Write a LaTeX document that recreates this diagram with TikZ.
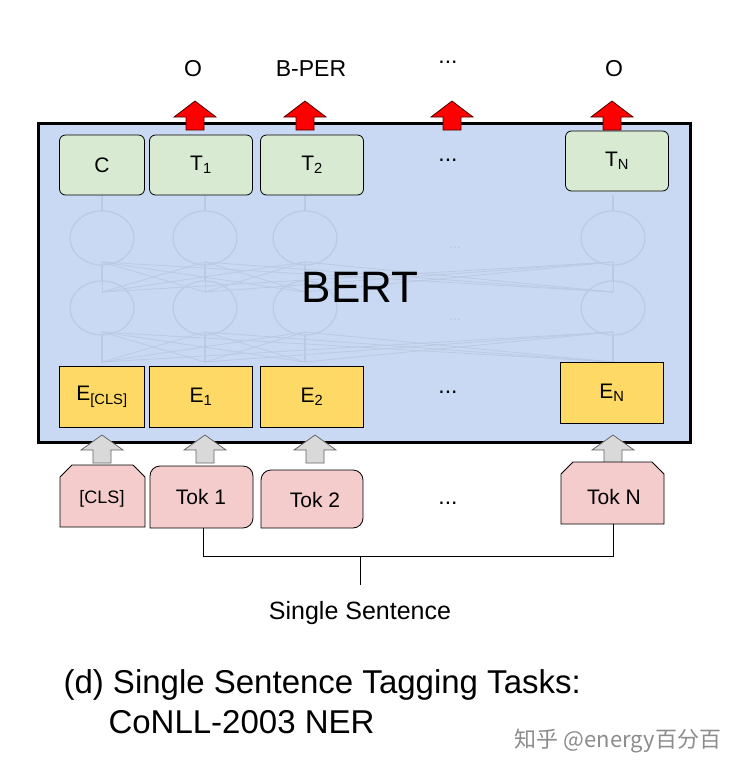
\documentclass[tikz,border=0pt]{standalone}
\usepackage{fontspec}
\setmainfont{Liberation Sans}
\newfontfamily\cjk{Noto Sans CJK SC}
\begin{document}
\begin{tikzpicture}[x=1pt,y=-1pt,
  green/.style={draw=black,thick,fill=gbox,rounded corners=6pt,minimum width=103pt,minimum height=60pt,font=\fontsize{21}{24}\selectfont},
  yel/.style={draw=black,thick,fill=ybox,minimum width=103pt,minimum height=61pt,font=\fontsize{21}{24}\selectfont},
  lbl/.style={font=\fontsize{23}{26}\selectfont},
  faint/.style={draw=black!7!bluebg,line width=1.2pt},
  redarr/.style={fill=red,draw=black!70!red,thick},
  grayarr/.style={fill=black!15,draw=black!60,thick}]
\definecolor{bluebg}{HTML}{C9D9F3}
\definecolor{gbox}{HTML}{D9EAD3}
\definecolor{ybox}{HTML}{FFD966}
\definecolor{pbox}{HTML}{F4CCCC}
\useasboundingbox (0,0) rectangle (742,772);
\fill[white] (0,0) rectangle (742,772);
% BERT box
\draw[line width=3pt,fill=bluebg] (38,123) rectangle (690,442);
% faint network
\foreach \x in {102,205,305,613}{
  \draw[faint] (\x,238) ellipse (32 and 27);
  \draw[faint] (\x,308) ellipse (32 and 27);
  \draw[faint] (\x,195) -- (\x,211);
  \draw[faint] (\x,265) -- (\x,281);
  \draw[faint] (\x,335) -- (\x,362);
  \foreach \y in {102,205,305,613}{
    \draw[faint,line width=0.8pt] (\x,292) -- (\y,262);
    \draw[faint,line width=0.8pt] (\x,362) -- (\y,332);
  }
}
\node[text=black!10!bluebg,font=\fontsize{14}{16}\selectfont] (d1) at (455,248) {...};
\node[text=black!10!bluebg,font=\fontsize{14}{16}\selectfont] (d2) at (455,320) {...};
\node[font=\fontsize{44}{50}\selectfont] (bert) at (360,287) {BERT};
% green
\node[green,minimum width=85pt] (c) at (102,165) {C};
\node[green] (t1) at (201,165) {T\textsubscript{1}};
\node[green] (t2) at (312,165) {T\textsubscript{2}};
\node[green] (tn) at (617,161) {T\textsubscript{N}};
\node[lbl] (dt) at (448,160) {...};
% yellow
\node[yel,minimum width=85pt] (ecls) at (102,397) {E\textsubscript{[CLS]}};
\node[yel] (e1) at (201,397) {E\textsubscript{1}};
\node[yel] (e2) at (312,397) {E\textsubscript{2}};
\node[yel] (en) at (612,393) {E\textsubscript{N}};
\node[lbl] (de) at (448,392) {...};
% red arrows
\foreach \x/\n in {195/ra,305/rb,452/rc,612/rd}{
  \draw[redarr] (\x-9,130) -- (\x-9,117) -- (\x-21,117) -- (\x,101) -- (\x+21,117) -- (\x+9,117) -- (\x+9,130) -- cycle;
}
\node[lbl] (o1) at (193,69) {O};
\node[lbl] (bp) at (311,69) {B-PER};
\node[lbl] (od) at (448,62) {...};
\node[lbl] (o2) at (614,69) {O};
% gray arrows
\foreach \x in {102,205,315,613}{
  \draw[grayarr] (\x-9,463) -- (\x-9,450) -- (\x-21,450) -- (\x,435) -- (\x+21,450) -- (\x+9,450) -- (\x+9,463) -- cycle;
}
% pink tokens
\draw[thick,fill=pbox] (60,527) -- (60,477) -- (72,465) -- (133,465) -- (145,477) -- (145,527) -- cycle;
\node[font=\fontsize{18}{20}\selectfont] (tcls) at (102,499) {[CLS]};
\draw[thick,fill=pbox,rounded corners=10pt] (150,528) -- (150,466) -- (253,466) -- (253,528) [sharp corners] -- cycle;
\node[font=\fontsize{21}{24}\selectfont] (tk1) at (201,497) {Tok 1};
\draw[thick,fill=pbox,rounded corners=10pt] (261,528) -- (261,470) -- (363,470) -- (363,528) [sharp corners] -- cycle;
\node[font=\fontsize{21}{24}\selectfont] (tk2) at (315,500) {Tok 2};
\draw[thick,fill=pbox] (561,524) -- (561,474) -- (573,462) -- (652,462) -- (664,474) -- (664,524) -- cycle;
\node[font=\fontsize{21}{24}\selectfont] (tkn) at (614,497) {Tok N};
\node[lbl] (dtok) at (448,503) {...};
% bracket
\coordinate (b1) at (203,528);
\coordinate (b2) at (613,524);
\coordinate (bm) at (360,556);
\coordinate (bs) at (360,585);
\draw[thick] (b1) -- (203,556) -- (613,556) -- (b2);
\draw[thick] (bm) -- (bs);
\node[font=\fontsize{25}{28}\selectfont] (ss) at (360,613) {Single Sentence};
% caption
\node[anchor=west,font=\fontsize{33}{36}\selectfont] (cap1) at (60,685) {(d) Single Sentence Tagging Tasks:};
\node[anchor=west,font=\fontsize{33}{36}\selectfont] (cap2) at (105,722) {CoNLL-2003 NER};
\node[text=black!45,font=\fontsize{22}{24}\selectfont] (wm) at (618,741) {\cjk 知乎 @energy百分百};
\end{tikzpicture}
\end{document}
